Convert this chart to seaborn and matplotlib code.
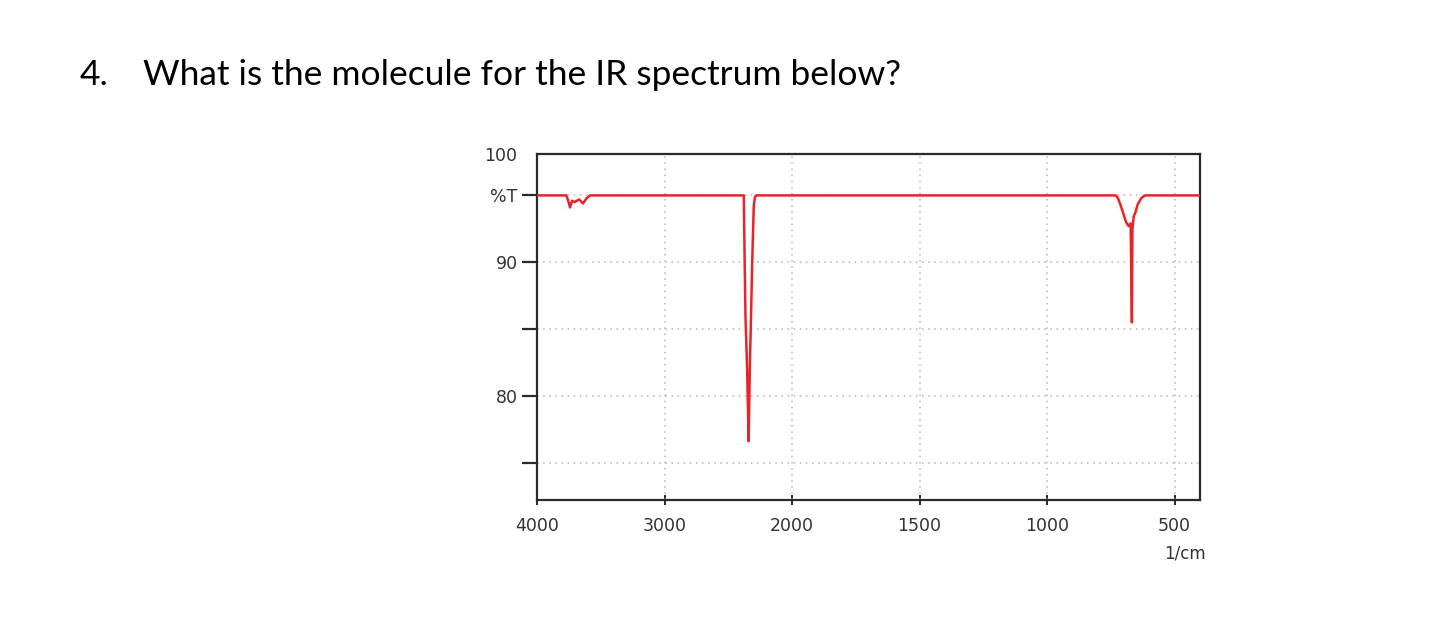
import numpy as np
import pandas as pd
import matplotlib
matplotlib.use('Agg')
import seaborn as sns
from matplotlib import pyplot as plt

# question text
q_number = "4."
q_text = "What is the molecule for the IR spectrum below?"

# spectrum (wavenumber 1/cm, %T)
wavenumber = [4000, 3770, 3755, 3741, 3725, 3705, 3670, 3639, 3610, 3584,
              2400, 2378, 2372, 2365, 2352, 2340, 2336, 2330, 2322, 2312,
              2300, 2290, 2280,
              730, 722, 712, 700, 690, 680, 672, 667, 665, 660, 652, 645, 630, 615, 400]
transmittance = [95.0, 95.0, 94.6, 94.1, 94.6, 94.5, 94.7, 94.4, 94.8, 95.0,
                 95.0, 95.0, 90.5, 86.0, 82.0, 76.6, 79.0, 82.5, 85.7, 90.0,
                 94.2, 94.9, 95.0,
                 95.0, 94.8, 94.3, 93.6, 93.0, 92.7, 92.9, 85.5, 92.5, 93.4, 93.8, 94.3, 94.8, 95.0, 95.0]

x_ticks = [4000, 3000, 2000, 1500, 1000, 500]
grid_x = [3000, 2000, 1500, 1000, 500]
y_ticks = [98.1, 95, 90, 85, 80, 75]
y_labels = ["100", "%T", "90", "", "80", ""]
grid_y = [95, 90, 85, 80, 75]

df = pd.DataFrame({"wn": wavenumber, "T": transmittance})

sns.set_style("white")
plt.rcParams['font.family'] = ['DejaVu Sans']

fig = plt.figure(figsize=(14.3, 6.22), dpi=100)
ax = fig.add_axes([537 / 1430, 1 - 500 / 622, (1200 - 537) / 1430, (500 - 154) / 622])


# IR charts compress the region above 2000 1/cm by half
def fwd(x):
    x = np.asarray(x, dtype=float)
    return np.where(x > 2000, 2000 + (x - 2000) * 0.5, x)


def inv(y):
    y = np.asarray(y, dtype=float)
    return np.where(y > 2000, 2000 + (y - 2000) * 2.0, y)


ax.set_xscale('function', functions=(fwd, inv))

for g in grid_x:
    ax.axvline(g, color='#b5b5b5', linestyle=(0, (1, 3)), linewidth=1.1, zorder=1)
for g in grid_y:
    ax.axhline(g, color='#b5b5b5', linestyle=(0, (1, 3)), linewidth=1.1, zorder=1)

sns.lineplot(data=df, x="wn", y="T", sort=False, estimator=None, ax=ax,
             color='#e8232a', linewidth=1.8, zorder=3)

ax.set_xlim(4000, 400)
ax.set_ylim(72.2, 98.1)
ax.set_xticks(x_ticks)
ax.set_xticklabels([str(t) for t in x_ticks])
ax.set_yticks(y_ticks)
ax.set_yticklabels(y_labels)
ax.minorticks_off()
ax.set_xlabel("")
ax.set_ylabel("")

for s in ax.spines.values():
    s.set_color('#2a2a2a')
    s.set_linewidth(1.6)

ax.tick_params(axis='y', left=True, direction='out', length=11, width=1.6, color='#2a2a2a',
               labelsize=12.5, labelcolor='#333333', pad=3)
ax.tick_params(axis='x', bottom=True, direction='inout', length=7, width=1.4, color='#2a2a2a',
               labelsize=12.5, labelcolor='#333333', pad=9)
# the "100" label sits at the corner without a tick mark
ax.yaxis.get_major_ticks()[0].tick1line.set_visible(False)

fig.text(1185 / 1430, 1 - 553 / 622, "1/cm", fontsize=12, color='#333333',
         ha='center', va='center')

fig.text(80 / 1430, 1 - 75 / 622, q_number, fontsize=25.5, family='Lato',
         ha='left', va='center', color='black')
fig.text(143 / 1430, 1 - 75 / 622, q_text, fontsize=25.5, family='Lato',
         ha='left', va='center', color='black')

fig.savefig("out.png", dpi=100)
